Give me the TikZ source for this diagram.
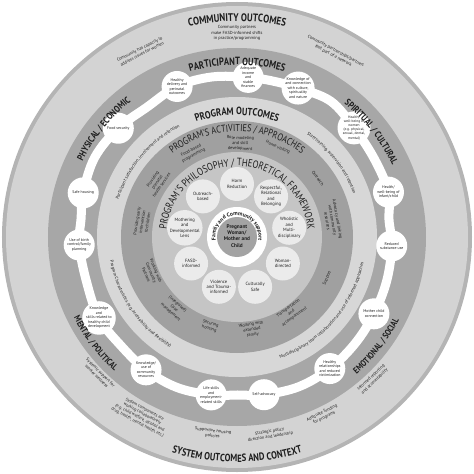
\documentclass[tikz,border=0pt]{standalone}
\usepackage{fontspec}
\setmainfont{PT Sans}
\newfontfamily\condsans[FakeStretch=0.82]{PT Sans}
\usetikzlibrary{decorations.text}
\definecolor{rimgray}{HTML}{B4B4B4}
\definecolor{commgray}{HTML}{D3D3D3}
\definecolor{partgray}{HTML}{A7A7A7}
\definecolor{proggray}{HTML}{D7D7D7}
\definecolor{actgray}{HTML}{A0A0A0}
\definecolor{philgray}{HTML}{C5C5C5}
\definecolor{philcirc}{HTML}{EBEBEB}
\definecolor{centergray}{HTML}{A3A3A3}
\definecolor{txtc}{HTML}{1E1E1E}
\newcommand{\ttlfont}{\condsans\bfseries\color{txtc}}
\newcommand{\medfont}{\condsans\color{txtc}}
\newcommand{\tinyfont}{\color{txtc}\fontsize{4.5}{5}\selectfont}
\newcommand{\toparc}[4]{\path[decorate,decoration={text along path,text align=center,text={#4}}] ({#2+#3}:#1) arc[start angle={#2+#3},end angle={#2-#3},radius=#1];}
\newcommand{\botarc}[4]{\path[decorate,decoration={text along path,text align=center,text={#4}}] ({#2-#3}:#1) arc[start angle={#2-#3},end angle={#2+#3},radius=#1];}
\begin{document}
\begin{tikzpicture}[x=1pt,y=1pt,
  ocirc/.style={circle,fill=white,minimum size=31pt,inner sep=0pt,align=center,text=txtc,font=\fontsize{3.9}{4.5}\selectfont},
  pcirc/.style={circle,fill=philcirc,minimum size=34pt,inner sep=0pt,align=center,text=txtc,font=\fontsize{4.6}{5.4}\selectfont},
  smalltxt/.style={align=center,inner sep=0pt,text=txtc,font=\fontsize{4.4}{5.3}\selectfont},
  ribbon/.style={draw=white,line width=9pt},
]
\useasboundingbox (-237,-237) rectangle (237,237);
% bands
\fill[rimgray] (0,0) circle (235);
\fill[commgray] (0,0) circle (231);
\fill[partgray] (0,0) circle (189);
\fill[proggray] (0,0) circle (140);
\fill[actgray] (0,0) circle (116);
\fill[philgray] (0,0) circle (85);
\fill[white] (0,0) circle (30);
\fill[centergray] (0,0) circle (20);

% ribbon path coordinates
\coordinate (c1) at (137.5:161);
\coordinate (c2) at (111.7:162);
\coordinate (c3) at (86:160);
\coordinate (c4) at (67.7:161);
\coordinate (c5) at (43:160);
\coordinate (c6) at (16.5:158);
\coordinate (c7) at (-3.3:155);
\coordinate (c8) at (-29.3:157);
\coordinate (c9) at (-54.8:161);
\coordinate (c10) at (-80.3:160);
\coordinate (c11) at (-99.3:160);
\coordinate (c12) at (-124.4:161);
\coordinate (c13) at (-149.6:160);
\coordinate (c14) at (-177.1:158);
\coordinate (c15) at (164:160);
\coordinate (m1) at (124.6:158);
\coordinate (m2) at (98.9:162);
\coordinate (m3) at (76.9:160);
\coordinate (m4) at (55.4:165);
\coordinate (m5) at (29.8:158);
\coordinate (m6) at (6.6:153);
\coordinate (m7) at (-16.3:156);
\coordinate (m8) at (-42:159);
\coordinate (m9) at (-67.5:162);
\coordinate (m10) at (-89.8:158);
\coordinate (m11) at (-111.8:162);
\coordinate (m12) at (-137:159);
\coordinate (m13) at (-163.4:157);
\coordinate (m14) at (173.5:157);
\coordinate (m15) at (150.8:163);
\draw[ribbon] plot[smooth cycle,tension=0.6] coordinates {(c1)(m1)(c2)(m2)(c3)(m3)(c4)(m4)(c5)(m5)(c6)(m6)(c7)(m7)(c8)(m8)(c9)(m9)(c10)(m10)(c11)(m11)(c12)(m12)(c13)(m13)(c14)(m14)(c15)(m15)};

% participant outcome circles
\node[ocirc] (p1) at (c1) {Food security};
\node[ocirc] (p2) at (c2) {Healthy\\delivery and\\perinatal\\outcomes};
\node[ocirc] (p3) at (c3) {Adequate\\income\\and\\stable\\finances};
\node[ocirc,minimum size=33pt] (p4) at (c4) {Knowledge of\\and connection\\with culture,\\spirituality\\and nature};
\node[ocirc,minimum size=33pt,font=\fontsize{3.6}{4.1}\selectfont] (p5) at (c5) {Health/\\well-being of\\women\\(e.g. physical,\\sexual, dental,\\mental)};
\node[ocirc] (p6) at (c6) {Health/\\well-being of\\infant/child};
\node[ocirc] (p7) at (c7) {Reduced\\substance use};
\node[ocirc] (p8) at (c8) {Mother child\\connection};
\node[ocirc] (p9) at (c9) {Healthy\\relationships\\and reduced\\victimization};
\node[ocirc] (p10) at (c10) {Self-advocacy};
\node[ocirc] (p11) at (c11) {Life skills\\and\\employment-\\related skills};
\node[ocirc] (p12) at (c12) {Knowledge/\\use of\\community\\resources};
\node[ocirc,minimum size=33pt] (p13) at (c13) {Knowledge\\and\\skills related to\\healthy child\\development};
\node[ocirc] (p14) at (c14) {Use of birth\\control/family\\planning};
\node[ocirc] (p15) at (c15) {Safe housing};

% philosophy circles
\node[pcirc] (f1) at (90:53) {Harm\\Reduction};
\node[pcirc] (f2) at (130:53) {Outreach-\\based};
\node[pcirc] (f3) at (170:53) {Mothering\\and\\Developmental\\Lens};
\node[pcirc] (f4) at (210:53) {FASD-\\informed};
\node[pcirc] (f5) at (250:53) {Violence\\and Trauma-\\informed};
\node[pcirc] (f6) at (290:53) {Culturally\\Safe};
\node[pcirc] (f7) at (330:53) {Woman-\\directed};
\node[pcirc] (f8) at (10:53) {Wholistic\\and\\Multi-\\disciplinary};
\node[pcirc] (f9) at (50:53) {Respectful,\\Relational\\and\\Belonging};

% centre
\node[align=center,inner sep=0pt,text=txtc,font=\bfseries\fontsize{5.3}{6.2}\selectfont] (ctr) at (0,1) {Pregnant\\Woman/\\Mother and\\Child};
\toparc{21.5}{90}{125}{|\bfseries\color{txtc}\fontsize{5.6}{6}\selectfont|Family and Community support}

% activities
\node[smalltxt,rotate=-2] (a1) at (88:93.5) {Role modeling\\and skill\\development};
\node[smalltxt,rotate=28] (a2) at (118:95) {Food-based\\programming};
\node[smalltxt,rotate=-25] (a3) at (65.4:98.5) {Home visiting};
\node[smalltxt,rotate=-54] (a4) at (35.9:100) {Outreach};
\node[smalltxt,rotate=-80] (a5) at (10.1:97) {Advocacy and linking\\with community\\resources};
\node[smalltxt,rotate=65.5] (a6) at (-24.5:99) {Support};
\node[smalltxt,rotate=35.8] (a7) at (-54.2:93) {Transportation\\and\\accompaniment};
\node[smalltxt,rotate=9.2] (a8) at (-80.8:94) {Working with\\extended\\family};
\node[smalltxt,rotate=-16.9] (a9) at (-106.9:93) {Securing\\housing};
\node[smalltxt,rotate=-41.5] (a10) at (-131.5:95) {(Integrated)\\Case\\management};
\node[smalltxt,rotate=-67.4] (a11) at (-157.4:93) {Working with\\Community\\Partners};
\node[smalltxt,rotate=80.9] (a12) at (170.9:96) {Providing early\\intervention\\to children};
\node[smalltxt,rotate=55.5] (a13) at (145.5:97) {Providing\\prenatal\\health services};

% program outcome arc texts
\toparc{124}{140}{40}{|\tinyfont|Participant satisfaction, involvement and retention}
\toparc{124}{38}{35}{|\tinyfont|Staff training, supervision and retention}
\botarc{129}{214.7}{45}{|\tinyfont|Program Characteristics (e.g. accessibility and flexibility)}
\botarc{129}{319}{45}{|\tinyfont|Multidisciplinary team collaboration and use of informed approaches}

% community / system texts
\node[smalltxt] (cm1) at (0,204) {Community partners\\make FASD-informed shifts\\in practice/programming};
\node[smalltxt,rotate=27] (cm2) at (117.4:209) {Community has capacity to\\address issues for women};
\node[smalltxt,rotate=-28] (cm3) at (62:208) {Community partnerships/partners\\feel part of a network};
\node[smalltxt,rotate=-45] (sy1) at (224.8:195) {Systemic support for\\worker wellness};
\node[smalltxt,rotate=-28,font=\fontsize{4.2}{5.1}\selectfont] (sy2) at (241.8:203) {System components are\\working collaboratively\\(e.g. child welfare, alcohol and\\drug, health, mental health, etc.)};
\node[smalltxt,rotate=-7] (sy3) at (263:198) {Supportive housing\\policies};
\node[smalltxt,rotate=9.5] (sy4) at (279.5:200) {Strategic policy\\direction and leadership};
\node[smalltxt,rotate=25.8] (sy5) at (295.8:198) {Adequate funding\\for programs};
\node[smalltxt,rotate=43.6] (sy6) at (313.6:197) {Informed reporting\\and accountability};

% titles
\toparc{216}{90}{40}{|\ttlfont\fontsize{11}{13}\selectfont|COMMUNITY OUTCOMES}
\toparc{172}{90}{45}{|\ttlfont\fontsize{10.5}{12}\selectfont|PARTICIPANT OUTCOMES}
\toparc{122}{90}{55}{|\ttlfont\fontsize{10.5}{12}\selectfont|PROGRAM OUTCOMES}
\toparc{105.5}{90}{70}{|\medfont\fontsize{10}{12}\selectfont|PROGRAM'S ACTIVITIES / APPROACHES}
\toparc{71}{90}{120}{|\medfont\fontsize{10.5}{12}\selectfont|PROGRAM'S PHILOSOPHY / THEORETICAL FRAMEWORK}
\botarc{225}{270}{45}{|\ttlfont\fontsize{10.5}{12}\selectfont|SYSTEM OUTCOMES AND CONTEXT}
\toparc{172}{141}{30}{|\ttlfont\fontsize{9.5}{11}\selectfont|PHYSICAL / ECONOMIC}
\toparc{171}{38}{30}{|\ttlfont\fontsize{9.5}{11}\selectfont|SPIRITUAL / CULTURAL}
\botarc{182}{217}{30}{|\ttlfont\fontsize{9}{11}\selectfont|MENTAL / POLITICAL}
\botarc{182}{322}{30}{|\ttlfont\fontsize{9}{11}\selectfont|EMOTIONAL / SOCIAL}
\end{tikzpicture}
\end{document}
